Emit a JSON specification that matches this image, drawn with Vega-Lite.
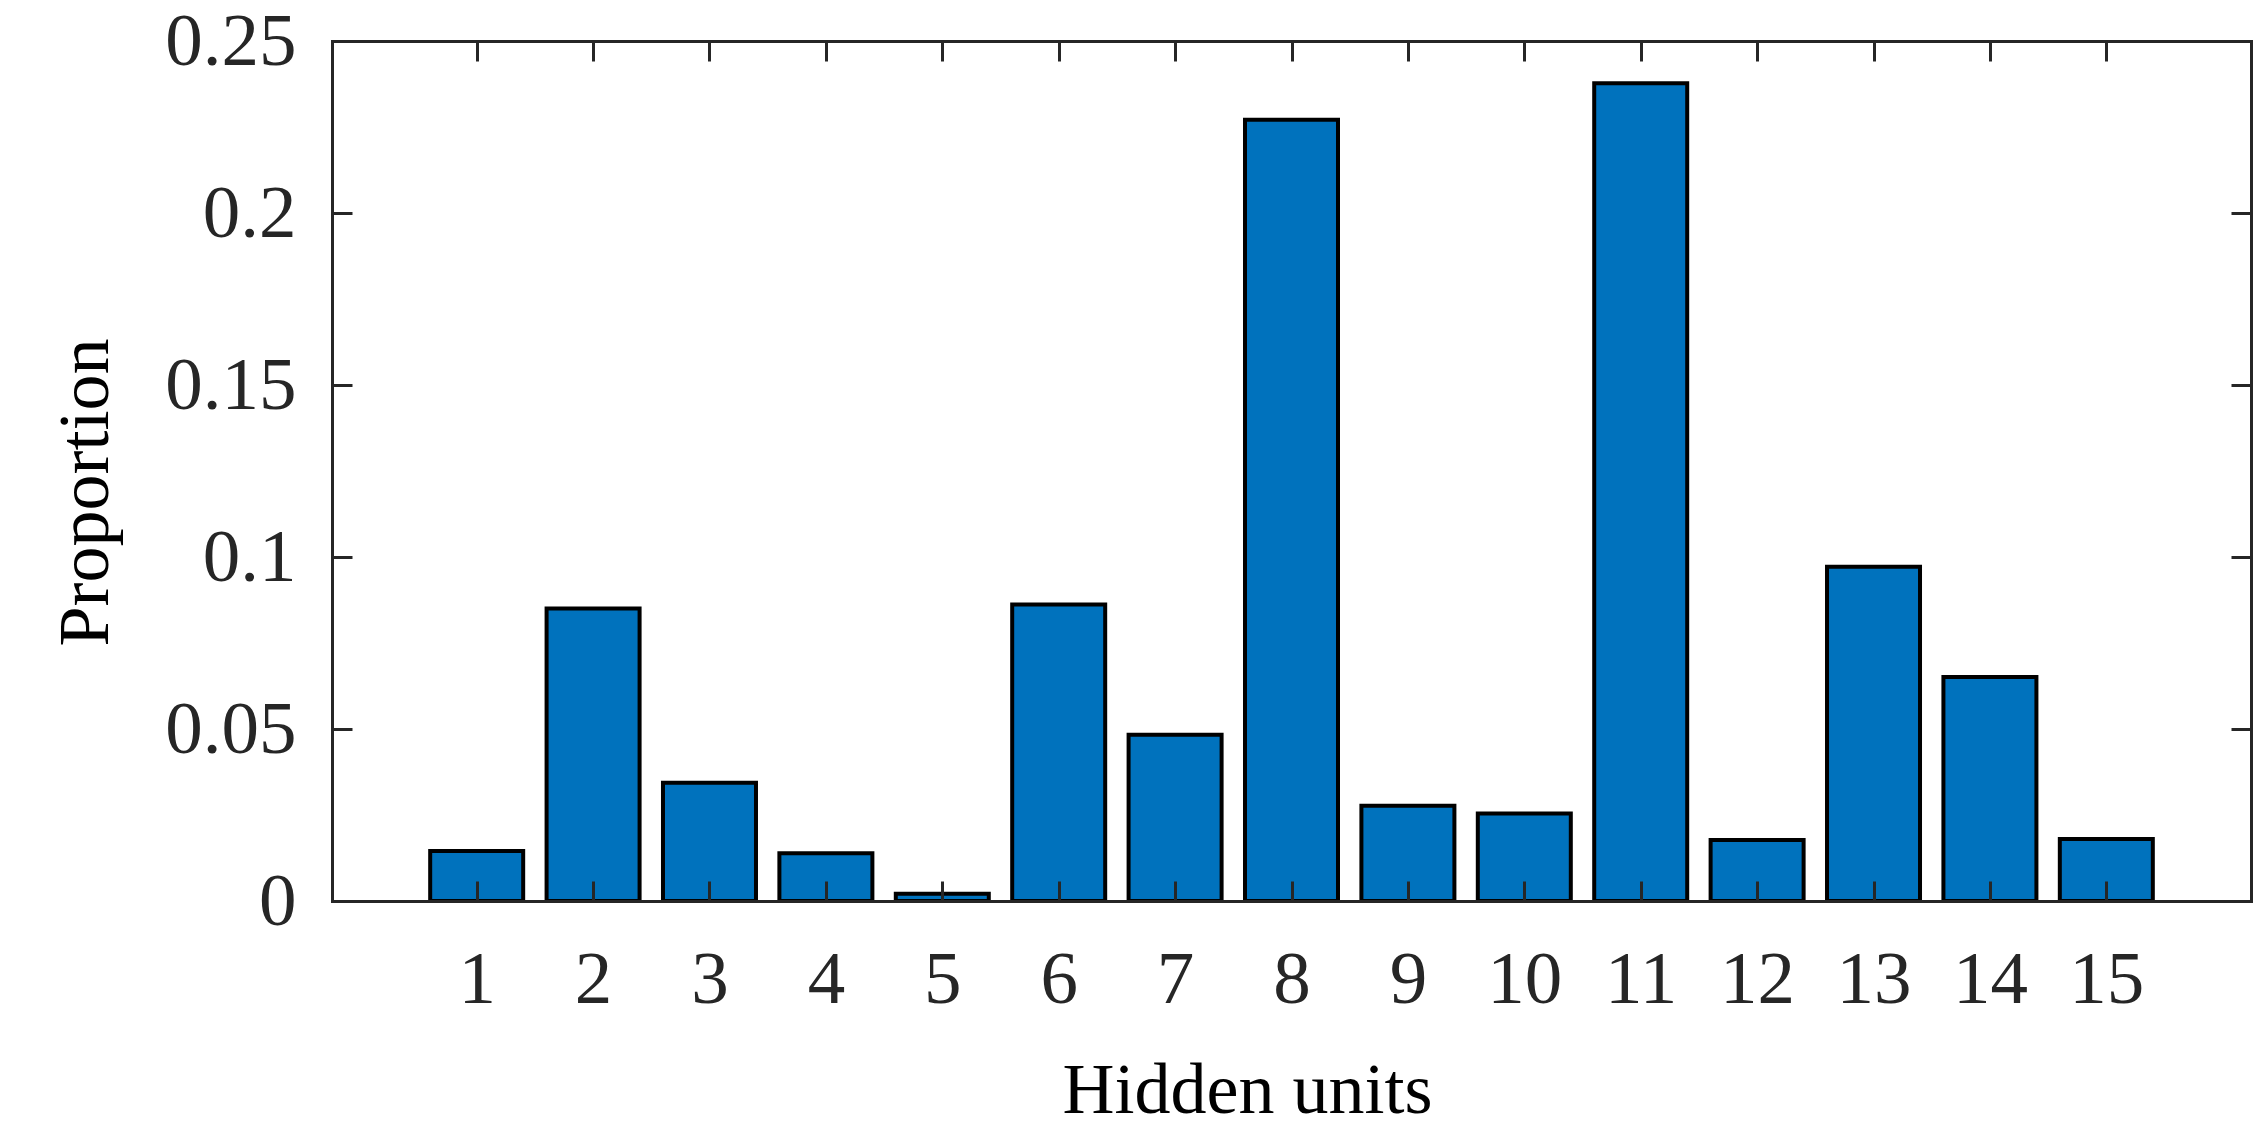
{
  "$schema": "https://vega.github.io/schema/vega-lite/v6.json",
  "width": 1919,
  "height": 860,
  "autosize": "none",
  "padding": {"left": 332, "top": 41, "right": 13, "bottom": 235},
  "background": "white",
  "config": {"view": {"stroke": null}, "font": "Liberation Serif"},
  "data": {
    "values": [
      {"unit": 1, "proportion": 0.0145},
      {"unit": 2, "proportion": 0.085},
      {"unit": 3, "proportion": 0.0344},
      {"unit": 4, "proportion": 0.0139},
      {"unit": 5, "proportion": 0.0021},
      {"unit": 6, "proportion": 0.0862},
      {"unit": 7, "proportion": 0.0483},
      {"unit": 8, "proportion": 0.2271},
      {"unit": 9, "proportion": 0.0277},
      {"unit": 10, "proportion": 0.0254},
      {"unit": 11, "proportion": 0.2377},
      {"unit": 12, "proportion": 0.0177},
      {"unit": 13, "proportion": 0.0972},
      {"unit": 14, "proportion": 0.0651},
      {"unit": 15, "proportion": 0.018}
    ]
  },
  "layer": [
    {
      "mark": {"type": "bar", "orient": "vertical", "width": 93, "fill": "#0072BD", "stroke": "#000000", "strokeWidth": 4},
      "encoding": {
        "x": {
          "field": "unit", "type": "quantitative",
          "scale": {"domain": [-0.2, 16.2], "nice": false, "zero": false},
          "axis": {
            "orient": "bottom", "values": [1,2,3,4,5,6,7,8,9,10,11,12,13,14,15], "format": "d",
            "tickSize": -20, "tickWidth": 3, "tickColor": "#262626",
            "domainColor": "#262626", "domainWidth": 3, "domainCap": "square",
            "labelFont": "Liberation Serif", "labelFontSize": 75, "labelColor": "#262626",
            "labelPadding": 62, "labelAngle": 0, "labelFlush": false, "labelOverlap": false,
            "grid": false, "zindex": 1,
            "title": "Hidden units", "titleFont": "Liberation Serif", "titleFontSize": 72,
            "titleFontWeight": "normal", "titleColor": "#000000",
            "titleX": 915, "titleY": 211, "titleBaseline": "alphabetic", "titleAlign": "center", "titleAnchor": null
          }
        },
        "y": {
          "field": "proportion", "type": "quantitative",
          "scale": {"domain": [0, 0.25], "nice": false, "zero": true},
          "axis": {
            "orient": "left", "values": [0, 0.05, 0.1, 0.15, 0.2, 0.25], "format": "~g",
            "tickSize": -20, "tickWidth": 3, "tickColor": "#262626",
            "domainColor": "#262626", "domainWidth": 3, "domainCap": "square",
            "labelFont": "Liberation Serif", "labelFontSize": 75, "labelColor": "#262626",
            "labelPadding": 56, "labelFlush": false, "labelOverlap": false, "labelBaseline": "middle",
            "grid": false, "zindex": 1,
            "title": "Proportion", "titleFont": "Liberation Serif", "titleFontSize": 72,
            "titleFontWeight": "normal", "titleColor": "#000000",
            "titleX": -225, "titleY": 451, "titleAngle": 270, "titleBaseline": "alphabetic", "titleAlign": "center", "titleAnchor": null
          }
        }
      }
    },
    {
      "mark": {"type": "bar", "orient": "vertical", "width": 93, "opacity": 0},
      "encoding": {
        "x": {
          "field": "unit", "type": "quantitative",
          "axis": {
            "orient": "top", "values": [1,2,3,4,5,6,7,8,9,10,11,12,13,14,15],
            "labels": false, "title": null,
            "tickSize": -20, "tickWidth": 3, "tickColor": "#262626",
            "domainColor": "#262626", "domainWidth": 3, "domainCap": "square",
            "grid": false, "zindex": 1
          }
        },
        "y": {
          "field": "proportion", "type": "quantitative",
          "axis": {
            "orient": "right", "values": [0, 0.05, 0.1, 0.15, 0.2, 0.25],
            "labels": false, "title": null,
            "tickSize": -20, "tickWidth": 3, "tickColor": "#262626",
            "domainColor": "#262626", "domainWidth": 3, "domainCap": "square",
            "grid": false, "zindex": 1
          }
        }
      }
    }
  ],
  "resolve": {"axis": {"x": "independent", "y": "independent"}}
}
